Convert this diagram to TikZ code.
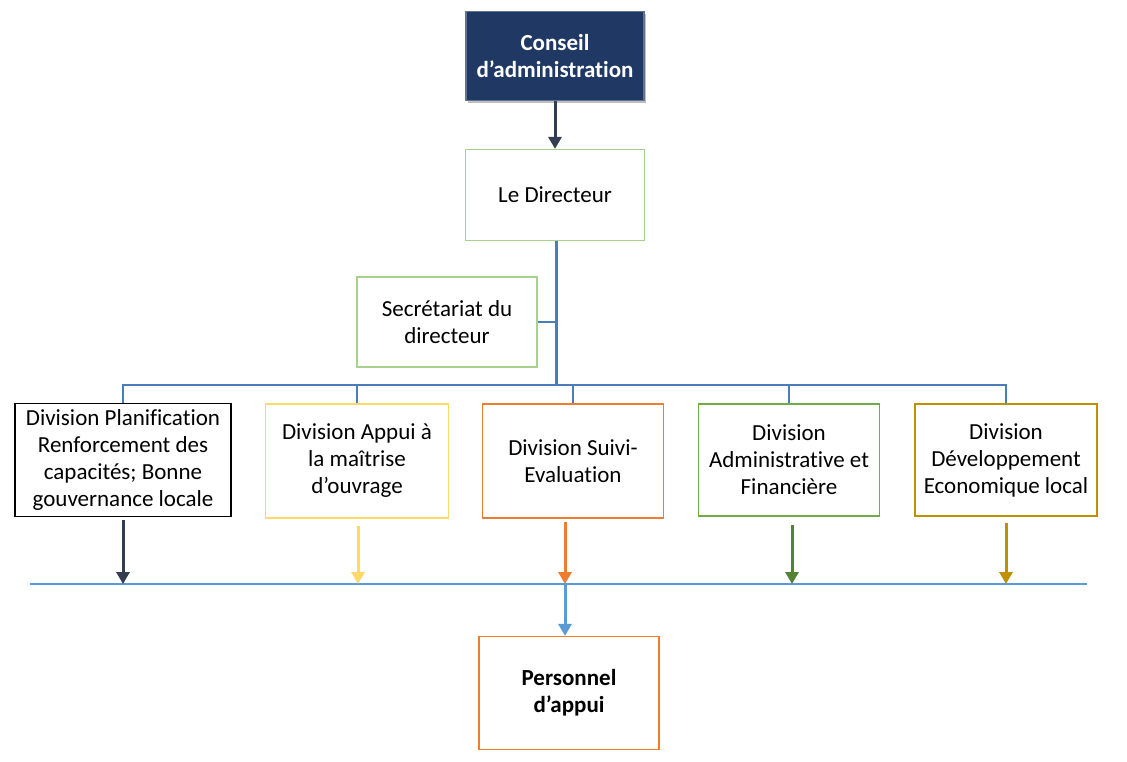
\documentclass[tikz,border=0pt]{standalone}
\usepackage{fontspec}
\setmainfont{Carlito}[Ligatures=NoCommon]
\usetikzlibrary{arrows.meta,shadows}
\definecolor{navy}{HTML}{1F3864}
\definecolor{lgreen}{HTML}{A9D18E}
\definecolor{bline}{HTML}{4A7EBB}
\definecolor{lblue}{HTML}{5B9BD5}
\definecolor{yel}{HTML}{FFD966}
\definecolor{ora}{HTML}{ED7D31}
\definecolor{grn}{HTML}{70AD47}
\definecolor{dgrn}{HTML}{548235}
\definecolor{gold}{HTML}{BF9000}
\definecolor{dark}{HTML}{333F50}
\begin{document}
\begin{tikzpicture}[x=1pt,y=-1pt,
 box/.style={draw,line width=1.2pt,fill=white,align=center,inner sep=2pt,font=\fontsize{23}{27}\selectfont},
 arr/.style={-{Triangle[length=12pt,width=13pt]},line width=3pt},
 bus/.style={line width=1.5pt,draw=bline}]
\useasboundingbox (0,0) rectangle (1127,762);
\node[box,draw=navy!70,fill=navy,text=white,font=\fontsize{23}{27}\selectfont\bfseries,minimum width=178pt,minimum height=89pt,drop shadow] (ca) at (555,56) {Conseil\\d'administration};
\node[box,draw=lgreen,minimum width=179pt,minimum height=91pt] (dir) at (555,195) {Le Directeur};
\node[box,draw=lgreen,minimum width=180pt,minimum height=90pt] (sec) at (447,322) {Secrétariat du\\directeur};
\node[box,draw=black,minimum width=216pt,minimum height=113pt] (d1) at (123,460) {Division Planification\\Renforcement des\\capacités; Bonne\\gouvernance locale};
\node[box,draw=yel,minimum width=183pt,minimum height=114pt] (d2) at (357,461) {Division Appui à\\la maîtrise\\d'ouvrage};
\node[box,draw=ora,minimum width=181pt,minimum height=114pt] (d3) at (573,461) {Division Suivi-\\Evaluation};
\node[box,draw=grn,minimum width=181pt,minimum height=112pt] (d4) at (789,460) {Division\\Administrative et\\Financière};
\node[box,draw=gold,minimum width=182pt,minimum height=112pt] (d5) at (1006,460) {Division\\Développement\\Economique local};
\node[box,draw=ora,font=\fontsize{23}{27}\selectfont\bfseries,minimum width=180pt,minimum height=113pt] (pa) at (569,693) {Personnel\\d'appui};
\coordinate (j) at (556,385);
\coordinate (bl) at (30,584);
\coordinate (br) at (1087,584);
\coordinate (pt) at (565,584);
\draw[arr,draw=dark] (ca.south) -- (ca.south|-dir.north);
\draw[bus,line width=3pt] (dir.south-|j) -- (j);
\draw[bus] (sec.east) -- (sec.east-|j);
\draw[bus] (d1.north) -- (d1.north|-j) -- (d5.north|-j) -- (d5.north);
\foreach \n in {d2,d3,d4} \draw[bus] (\n.north) -- (\n.north|-j);
\draw[line width=1.5pt,draw=lblue] (bl) -- (br);
\draw[arr,draw=dark] ([yshift=-3pt]d1.south) -- (d1.south|-bl);
\draw[arr,draw=yel] ([xshift=1pt,yshift=-7pt]d2.south) -- ([xshift=1pt]d2.south|-bl);
\draw[arr,draw=ora] ([xshift=-8pt,yshift=-3pt]d3.south) -- ([xshift=-8pt]d3.south|-bl);
\draw[arr,draw=dgrn] ([xshift=3pt,yshift=-8pt]d4.south) -- ([xshift=3pt]d4.south|-bl);
\draw[arr,draw=gold] ([yshift=-6pt]d5.south) -- (d5.south|-bl);
\draw[arr,draw=lblue] (pt) -- (pt|-pa.north);
\end{tikzpicture}
\end{document}
